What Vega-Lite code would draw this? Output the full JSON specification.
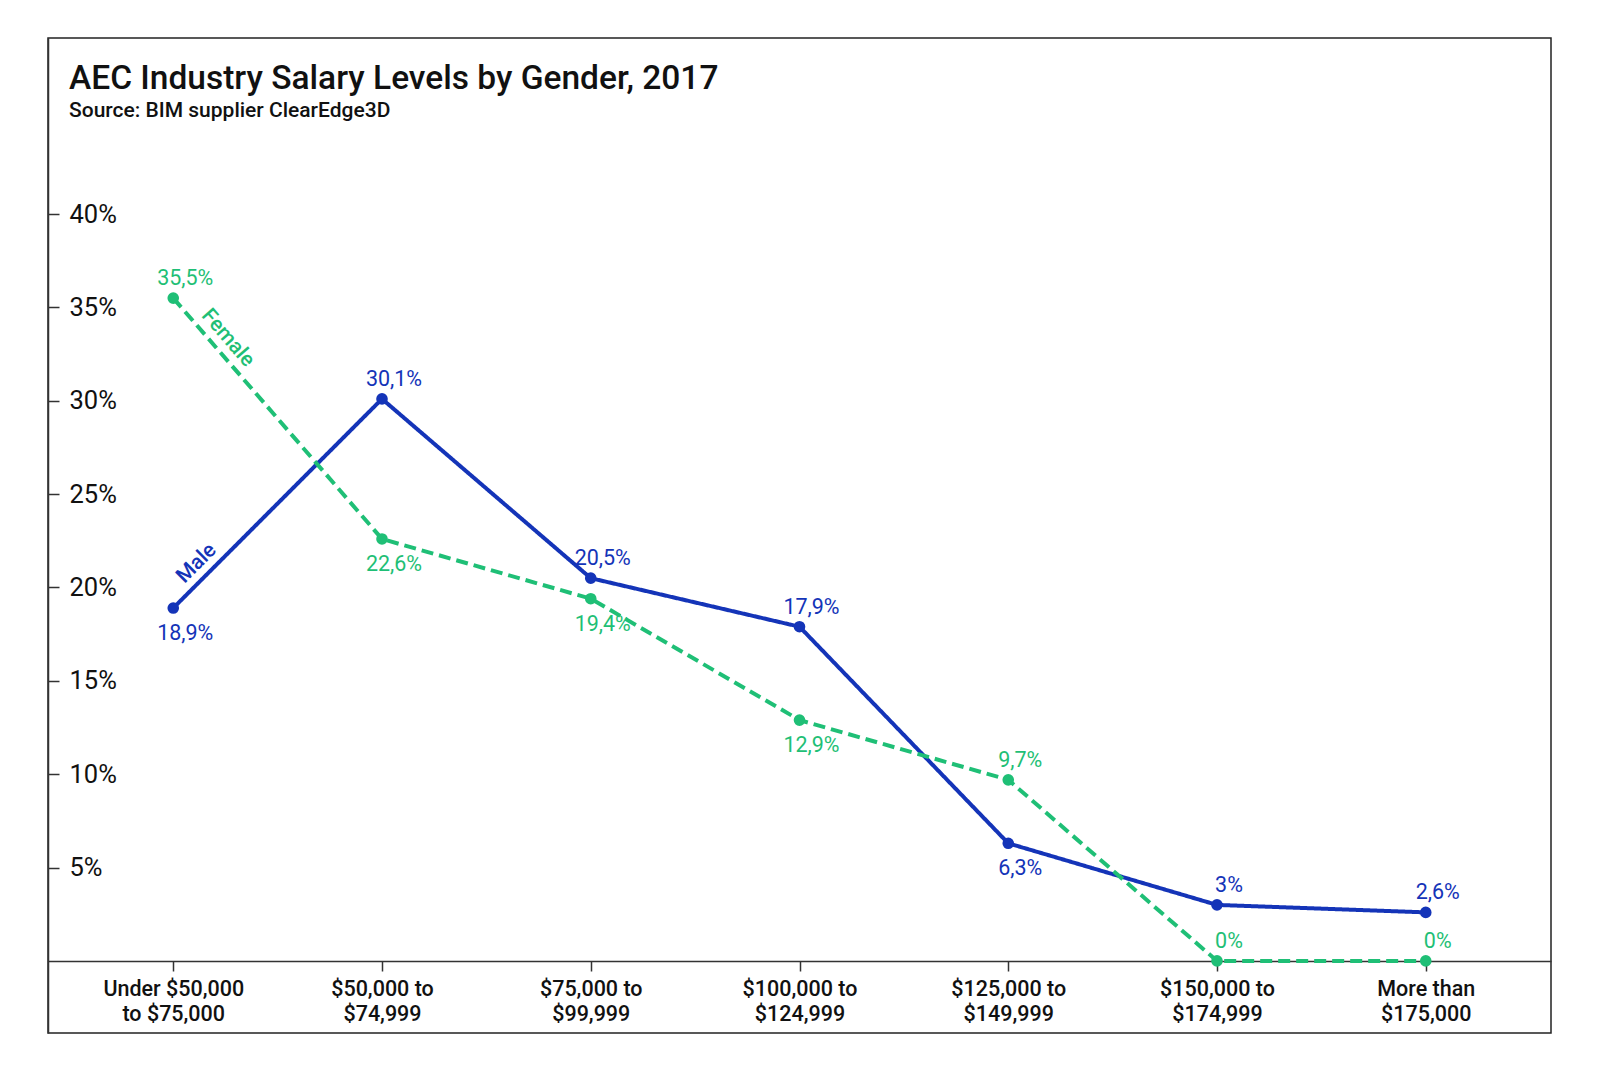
{
  "$schema": "https://vega.github.io/schema/vega-lite/v6.json",
  "description": "AEC Industry Salary Levels by Gender, 2017",
  "autosize": {"type": "none"},
  "padding": {"left": 48, "top": 38, "right": 49, "bottom": 34},
  "width": 1503,
  "height": 995,
  "background": "#ffffff",
  "title": {
    "text": "AEC Industry Salary Levels by Gender, 2017",
    "subtitle": "Source: BIM supplier ClearEdge3D",
    "anchor": "start",
    "frame": "group",
    "orient": "top",
    "offset": -84,
    "dx": 21,
    "font": "Roboto",
    "fontSize": 33.5,
    "fontWeight": 500,
    "color": "#111111",
    "subtitleFont": "Roboto",
    "subtitleFontSize": 21,
    "subtitleFontWeight": 500,
    "subtitleColor": "#111111",
    "subtitlePadding": 4
  },
  "data": {
    "values": [
      {"salary": "Under $50,000 to $75,000", "gender": "Male", "share": 0.189},
      {"salary": "$50,000 to $74,999", "gender": "Male", "share": 0.301},
      {"salary": "$75,000 to $99,999", "gender": "Male", "share": 0.205},
      {"salary": "$100,000 to $124,999", "gender": "Male", "share": 0.179},
      {"salary": "$125,000 to $149,999", "gender": "Male", "share": 0.063},
      {"salary": "$150,000 to $174,999", "gender": "Male", "share": 0.03},
      {"salary": "More than $175,000", "gender": "Male", "share": 0.026},
      {"salary": "Under $50,000 to $75,000", "gender": "Female", "share": 0.355},
      {"salary": "$50,000 to $74,999", "gender": "Female", "share": 0.226},
      {"salary": "$75,000 to $99,999", "gender": "Female", "share": 0.194},
      {"salary": "$100,000 to $124,999", "gender": "Female", "share": 0.129},
      {"salary": "$125,000 to $149,999", "gender": "Female", "share": 0.097},
      {"salary": "$150,000 to $174,999", "gender": "Female", "share": 0},
      {"salary": "More than $175,000", "gender": "Female", "share": 0}
    ]
  },
  "encoding": {
    "x": {
      "field": "salary",
      "type": "ordinal",
      "sort": null,
      "scale": {"type": "point", "padding": 0.6},
      "axis": {
        "title": null,
        "orient": "bottom",
        "offset": -72,
        "labelAngle": 0,
        "labelFont": "Roboto",
        "labelFontSize": 21.5,
        "labelFontWeight": 500,
        "labelColor": "#111111",
        "labelLineHeight": 25,
        "labelPadding": 7,
        "labelBaseline": "top",
        "labelExpr": "datum.label === 'Under $50,000 to $75,000' ? ['Under $50,000', 'to $75,000'] : [substring(datum.label, 0, lastindexof(datum.label, ' ')), substring(datum.label, lastindexof(datum.label, ' ') + 1)]",
        "domainColor": "#333333",
        "domainWidth": 1.5,
        "tickColor": "#333333",
        "tickWidth": 1.5,
        "tickSize": 10,
        "grid": false
      }
    },
    "y": {
      "field": "share",
      "type": "quantitative",
      "scale": {"domain": [-0.0386, 0.4943], "nice": false, "zero": false},
      "axis": {
        "title": null,
        "values": [0.05, 0.1, 0.15, 0.2, 0.25, 0.3, 0.35, 0.4],
        "format": ".0%",
        "labelAlign": "left",
        "labelBaseline": "middle",
        "labelFont": "Roboto",
        "labelFontSize": 25.5,
        "labelColor": "#111111",
        "labelPadding": -10,
        "tickSize": -11,
        "tickColor": "#333333",
        "tickWidth": 1.5,
        "domainColor": "#333333",
        "domainWidth": 1.5,
        "grid": false
      }
    },
    "color": {
      "field": "gender",
      "type": "nominal",
      "scale": {"domain": ["Male", "Female"], "range": ["#1434b8", "#1fbf76"]},
      "legend": null
    }
  },
  "layer": [
    {
      "mark": {"type": "line", "strokeWidth": 4},
      "encoding": {
        "strokeDash": {
          "field": "gender",
          "type": "nominal",
          "scale": {"domain": ["Male", "Female"], "range": [[1, 0], [12, 6]]},
          "legend": null
        }
      }
    },
    {
      "mark": {"type": "circle", "size": 135, "opacity": 1}
    },
    {
      "transform": [
        {"filter": "!((datum.gender === 'Male' && indexof(['Under $50,000 to $75,000', '$125,000 to $149,999'], datum.salary) >= 0) || (datum.gender === 'Female' && indexof(['$50,000 to $74,999', '$75,000 to $99,999', '$100,000 to $124,999'], datum.salary) >= 0))"}
      ],
      "mark": {"type": "text", "font": "Roboto", "fontSize": 21.5, "baseline": "alphabetic", "align": "center", "dx": 12, "dy": -13},
      "encoding": {
        "text": {"field": "share", "type": "quantitative", "format": ".1~%"}
      }
    },
    {
      "transform": [
        {"filter": "(datum.gender === 'Male' && indexof(['Under $50,000 to $75,000', '$125,000 to $149,999'], datum.salary) >= 0) || (datum.gender === 'Female' && indexof(['$50,000 to $74,999', '$75,000 to $99,999', '$100,000 to $124,999'], datum.salary) >= 0)"}
      ],
      "mark": {"type": "text", "font": "Roboto", "fontSize": 21.5, "baseline": "alphabetic", "align": "center", "dx": 12, "dy": 32},
      "encoding": {
        "text": {"field": "share", "type": "quantitative", "format": ".1~%"}
      }
    },
    {
      "transform": [
        {"filter": "datum.gender === 'Male' && datum.salary === 'Under $50,000 to $75,000'"}
      ],
      "mark": {"type": "text", "font": "Roboto", "fontSize": 21, "fontWeight": 500, "angle": -45, "align": "center", "baseline": "middle", "dx": 48, "dy": -15},
      "encoding": {
        "text": {"field": "gender"}
      }
    },
    {
      "transform": [
        {"filter": "datum.gender === 'Female' && datum.salary === 'Under $50,000 to $75,000'"}
      ],
      "mark": {"type": "text", "font": "Roboto", "fontSize": 21, "fontWeight": 500, "angle": 49, "align": "center", "baseline": "middle", "dx": 66, "dy": -15},
      "encoding": {
        "text": {"field": "gender"}
      }
    }
  ],
  "config": {
    "locale": {
      "number": {"decimal": ",", "thousands": ".", "grouping": [3], "currency": ["$", ""]}
    },
    "view": {"stroke": "#222222", "strokeWidth": 1.5}
  }
}
